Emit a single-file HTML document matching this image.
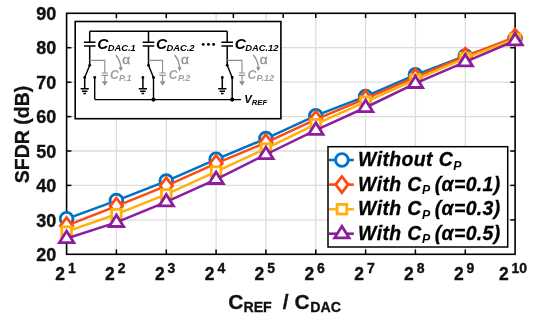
<!DOCTYPE html>
<html><head><meta charset="utf-8"><title>SFDR</title>
<style>html,body{margin:0;padding:0;background:#fff}svg{display:block}text{font-family:"Liberation Sans",sans-serif}</style></head>
<body>
<svg width="550" height="321" viewBox="0 0 550 321">
<rect width="550" height="321" fill="#fff"/>
<g stroke="#dcdcdc" stroke-width="1.3">
<line x1="116.4" y1="13.3" x2="116.4" y2="254.3"/>
<line x1="166.3" y1="13.3" x2="166.3" y2="254.3"/>
<line x1="216.1" y1="13.3" x2="216.1" y2="254.3"/>
<line x1="265.9" y1="13.3" x2="265.9" y2="254.3"/>
<line x1="315.8" y1="13.3" x2="315.8" y2="254.3"/>
<line x1="365.6" y1="13.3" x2="365.6" y2="254.3"/>
<line x1="415.4" y1="13.3" x2="415.4" y2="254.3"/>
<line x1="465.3" y1="13.3" x2="465.3" y2="254.3"/>
<line x1="66.6" y1="219.9" x2="515.1" y2="219.9"/>
<line x1="66.6" y1="185.4" x2="515.1" y2="185.4"/>
<line x1="66.6" y1="151.0" x2="515.1" y2="151.0"/>
<line x1="66.6" y1="116.6" x2="515.1" y2="116.6"/>
<line x1="66.6" y1="82.2" x2="515.1" y2="82.2"/>
<line x1="66.6" y1="47.7" x2="515.1" y2="47.7"/>
</g>
<g stroke="#000" stroke-width="1.5">
<line x1="116.4" y1="254.3" x2="116.4" y2="249.5"/>
<line x1="116.4" y1="13.3" x2="116.4" y2="18.1"/>
<line x1="166.3" y1="254.3" x2="166.3" y2="249.5"/>
<line x1="166.3" y1="13.3" x2="166.3" y2="18.1"/>
<line x1="216.1" y1="254.3" x2="216.1" y2="249.5"/>
<line x1="233.4" y1="13.3" x2="233.4" y2="18.1"/>
<line x1="265.9" y1="254.3" x2="265.9" y2="249.5"/>
<line x1="283.2" y1="13.3" x2="283.2" y2="18.1"/>
<line x1="315.8" y1="254.3" x2="315.8" y2="249.5"/>
<line x1="315.8" y1="13.3" x2="315.8" y2="18.1"/>
<line x1="365.6" y1="254.3" x2="365.6" y2="249.5"/>
<line x1="365.6" y1="13.3" x2="365.6" y2="18.1"/>
<line x1="415.4" y1="254.3" x2="415.4" y2="249.5"/>
<line x1="415.4" y1="13.3" x2="415.4" y2="18.1"/>
<line x1="465.3" y1="254.3" x2="465.3" y2="249.5"/>
<line x1="465.3" y1="13.3" x2="465.3" y2="18.1"/>
<line x1="66.6" y1="219.9" x2="71.39999999999999" y2="219.9"/>
<line x1="515.1" y1="219.9" x2="510.3" y2="219.9"/>
<line x1="66.6" y1="185.4" x2="71.39999999999999" y2="185.4"/>
<line x1="515.1" y1="185.4" x2="510.3" y2="185.4"/>
<line x1="66.6" y1="151.0" x2="71.39999999999999" y2="151.0"/>
<line x1="515.1" y1="151.0" x2="510.3" y2="151.0"/>
<line x1="66.6" y1="116.6" x2="71.39999999999999" y2="116.6"/>
<line x1="515.1" y1="116.6" x2="510.3" y2="116.6"/>
<line x1="66.6" y1="82.2" x2="71.39999999999999" y2="82.2"/>
<line x1="515.1" y1="82.2" x2="510.3" y2="82.2"/>
<line x1="66.6" y1="47.7" x2="71.39999999999999" y2="47.7"/>
<line x1="515.1" y1="47.7" x2="510.3" y2="47.7"/>
</g>
<rect x="66.6" y="13.3" width="448.5" height="241.0" fill="none" stroke="#000" stroke-width="1.6"/>
<g id="series">
<polyline points="66.6,218.8 116.4,200.6 166.3,181.1 216.1,159.3 265.9,138.6 315.8,115.7 365.6,96.4 415.4,74.8 465.3,56.0 515.1,38.4" fill="none" stroke="#0072C6" stroke-width="2.5" stroke-linejoin="round"/>
<circle cx="66.6" cy="218.8" r="6.35" fill="#fff" stroke="#0072C6" stroke-width="2.8"/>
<circle cx="116.4" cy="200.6" r="6.35" fill="#fff" stroke="#0072C6" stroke-width="2.8"/>
<circle cx="166.3" cy="181.1" r="6.35" fill="#fff" stroke="#0072C6" stroke-width="2.8"/>
<circle cx="216.1" cy="159.3" r="6.35" fill="#fff" stroke="#0072C6" stroke-width="2.8"/>
<circle cx="265.9" cy="138.6" r="6.35" fill="#fff" stroke="#0072C6" stroke-width="2.8"/>
<circle cx="315.8" cy="115.7" r="6.35" fill="#fff" stroke="#0072C6" stroke-width="2.8"/>
<circle cx="365.6" cy="96.4" r="6.35" fill="#fff" stroke="#0072C6" stroke-width="2.8"/>
<circle cx="415.4" cy="74.8" r="6.35" fill="#fff" stroke="#0072C6" stroke-width="2.8"/>
<circle cx="465.3" cy="56.0" r="6.35" fill="#fff" stroke="#0072C6" stroke-width="2.8"/>
<circle cx="515.1" cy="38.4" r="6.35" fill="#fff" stroke="#0072C6" stroke-width="2.8"/>
<polyline points="66.6,225.7 116.4,206.1 166.3,185.8 216.1,163.4 265.9,142.6 315.8,119.3 365.6,98.7 415.4,77.2 465.3,56.3 515.1,37.2" fill="none" stroke="#FF4A10" stroke-width="2.5" stroke-linejoin="round"/>
<path d="M66.6 217.6L72.8 225.7L66.6 233.8L60.4 225.7Z" fill="#fff" stroke="#FF4A10" stroke-width="2.8" stroke-linejoin="miter"/>
<path d="M116.4 198.0L122.6 206.1L116.4 214.2L110.2 206.1Z" fill="#fff" stroke="#FF4A10" stroke-width="2.8" stroke-linejoin="miter"/>
<path d="M166.3 177.7L172.5 185.8L166.3 193.9L160.1 185.8Z" fill="#fff" stroke="#FF4A10" stroke-width="2.8" stroke-linejoin="miter"/>
<path d="M216.1 155.3L222.3 163.4L216.1 171.5L209.9 163.4Z" fill="#fff" stroke="#FF4A10" stroke-width="2.8" stroke-linejoin="miter"/>
<path d="M265.9 134.5L272.1 142.6L265.9 150.7L259.7 142.6Z" fill="#fff" stroke="#FF4A10" stroke-width="2.8" stroke-linejoin="miter"/>
<path d="M315.8 111.2L322.0 119.3L315.8 127.4L309.6 119.3Z" fill="#fff" stroke="#FF4A10" stroke-width="2.8" stroke-linejoin="miter"/>
<path d="M365.6 90.6L371.8 98.7L365.6 106.8L359.4 98.7Z" fill="#fff" stroke="#FF4A10" stroke-width="2.8" stroke-linejoin="miter"/>
<path d="M415.4 69.1L421.6 77.2L415.4 85.3L409.2 77.2Z" fill="#fff" stroke="#FF4A10" stroke-width="2.8" stroke-linejoin="miter"/>
<path d="M465.3 48.2L471.5 56.3L465.3 64.4L459.1 56.3Z" fill="#fff" stroke="#FF4A10" stroke-width="2.8" stroke-linejoin="miter"/>
<path d="M515.1 29.1L521.3 37.2L515.1 45.3L508.9 37.2Z" fill="#fff" stroke="#FF4A10" stroke-width="2.8" stroke-linejoin="miter"/>
<polyline points="66.6,231.6 116.4,214.2 166.3,194.4 216.1,171.7 265.9,148.6 315.8,124.2 365.6,101.8 415.4,79.6 465.3,58.2 515.1,38.8" fill="none" stroke="#FFB00A" stroke-width="2.5" stroke-linejoin="round"/>
<rect x="61.8" y="226.8" width="9.6" height="9.6" fill="#fff" stroke="#FFB00A" stroke-width="2.8"/>
<rect x="111.6" y="209.4" width="9.6" height="9.6" fill="#fff" stroke="#FFB00A" stroke-width="2.8"/>
<rect x="161.5" y="189.6" width="9.6" height="9.6" fill="#fff" stroke="#FFB00A" stroke-width="2.8"/>
<rect x="211.3" y="166.9" width="9.6" height="9.6" fill="#fff" stroke="#FFB00A" stroke-width="2.8"/>
<rect x="261.1" y="143.8" width="9.6" height="9.6" fill="#fff" stroke="#FFB00A" stroke-width="2.8"/>
<rect x="311.0" y="119.4" width="9.6" height="9.6" fill="#fff" stroke="#FFB00A" stroke-width="2.8"/>
<rect x="360.8" y="97.0" width="9.6" height="9.6" fill="#fff" stroke="#FFB00A" stroke-width="2.8"/>
<rect x="410.6" y="74.8" width="9.6" height="9.6" fill="#fff" stroke="#FFB00A" stroke-width="2.8"/>
<rect x="460.5" y="53.4" width="9.6" height="9.6" fill="#fff" stroke="#FFB00A" stroke-width="2.8"/>
<rect x="510.3" y="34.0" width="9.6" height="9.6" fill="#fff" stroke="#FFB00A" stroke-width="2.8"/>
<polyline points="66.6,238.5 116.4,222.4 166.3,201.8 216.1,179.4 265.9,154.5 315.8,130.2 365.6,107.5 415.4,83.4 465.3,61.8 515.1,40.8" fill="none" stroke="#8C1E9E" stroke-width="2.5" stroke-linejoin="round"/>
<path d="M66.6 231.1L73.8 242.6L59.4 242.6Z" fill="#fff" stroke="#8C1E9E" stroke-width="2.8" stroke-linejoin="miter"/>
<path d="M116.4 215.0L123.6 226.5L109.2 226.5Z" fill="#fff" stroke="#8C1E9E" stroke-width="2.8" stroke-linejoin="miter"/>
<path d="M166.3 194.4L173.5 205.9L159.1 205.9Z" fill="#fff" stroke="#8C1E9E" stroke-width="2.8" stroke-linejoin="miter"/>
<path d="M216.1 172.0L223.3 183.5L208.9 183.5Z" fill="#fff" stroke="#8C1E9E" stroke-width="2.8" stroke-linejoin="miter"/>
<path d="M265.9 147.1L273.1 158.6L258.7 158.6Z" fill="#fff" stroke="#8C1E9E" stroke-width="2.8" stroke-linejoin="miter"/>
<path d="M315.8 122.8L323.0 134.3L308.6 134.3Z" fill="#fff" stroke="#8C1E9E" stroke-width="2.8" stroke-linejoin="miter"/>
<path d="M365.6 100.1L372.8 111.6L358.4 111.6Z" fill="#fff" stroke="#8C1E9E" stroke-width="2.8" stroke-linejoin="miter"/>
<path d="M415.4 76.0L422.6 87.5L408.2 87.5Z" fill="#fff" stroke="#8C1E9E" stroke-width="2.8" stroke-linejoin="miter"/>
<path d="M465.3 54.4L472.5 65.9L458.1 65.9Z" fill="#fff" stroke="#8C1E9E" stroke-width="2.8" stroke-linejoin="miter"/>
<path d="M515.1 33.4L522.3 44.9L507.9 44.9Z" fill="#fff" stroke="#8C1E9E" stroke-width="2.8" stroke-linejoin="miter"/>
</g>
<g font-weight="bold" font-size="18" text-anchor="end" fill="#111" stroke="#111" stroke-width="0.35">
<text x="56.3" y="260.9">20</text>
<text x="56.3" y="226.5">30</text>
<text x="56.3" y="192.0">40</text>
<text x="56.3" y="157.6">50</text>
<text x="56.3" y="123.2">60</text>
<text x="56.3" y="88.8">70</text>
<text x="56.3" y="54.3">80</text>
<text x="56.3" y="19.9">90</text>
</g>
<g font-weight="bold" fill="#111" stroke="#111" stroke-width="0.35">
<text x="55.3" y="280.3" font-size="17.5">2</text><text x="67.9" y="272.6" font-size="14">1</text>
<text x="105.1" y="280.3" font-size="17.5">2</text><text x="117.7" y="272.6" font-size="14">2</text>
<text x="155.0" y="280.3" font-size="17.5">2</text><text x="167.6" y="272.6" font-size="14">3</text>
<text x="204.8" y="280.3" font-size="17.5">2</text><text x="217.4" y="272.6" font-size="14">4</text>
<text x="254.6" y="280.3" font-size="17.5">2</text><text x="267.2" y="272.6" font-size="14">5</text>
<text x="304.5" y="280.3" font-size="17.5">2</text><text x="317.1" y="272.6" font-size="14">6</text>
<text x="354.3" y="280.3" font-size="17.5">2</text><text x="366.9" y="272.6" font-size="14">7</text>
<text x="404.1" y="280.3" font-size="17.5">2</text><text x="416.7" y="272.6" font-size="14">8</text>
<text x="454.0" y="280.3" font-size="17.5">2</text><text x="466.6" y="272.6" font-size="14">9</text>
<text x="498.9" y="280.3" font-size="17.5">2</text><text x="511.5" y="272.6" font-size="14">10</text>
</g>
<text transform="translate(28.6,134.5) rotate(-90)" text-anchor="middle" font-weight="bold" font-size="19.5" fill="#111" stroke="#111" stroke-width="0.3">SFDR (dB)</text>
<g font-weight="bold" fill="#111" stroke="#111" stroke-width="0.3"><text x="228.2" y="308.8" font-size="21">C</text><text x="243.4" y="311.9" font-size="14.2">REF</text><text x="282.8" y="308.8" font-size="21">/</text><text x="294.4" y="308.8" font-size="21">C</text><text x="310.2" y="311.9" font-size="14.2">DAC</text></g>
<rect x="328" y="146.7" width="179.7" height="100.3" fill="#fff" stroke="#000" stroke-width="1.5"/>
<line x1="329" y1="160.0" x2="353.8" y2="160.0" stroke="#0072C6" stroke-width="2.6"/>
<circle cx="341.9" cy="160.0" r="6.35" fill="#fff" stroke="#0072C6" stroke-width="2.8"/>
<text x="358.1" y="166.2" font-weight="bold" font-style="italic" font-size="19.4" letter-spacing="0.4" fill="#000" stroke="#000" stroke-width="0.3">Without C<tspan font-size="12.3" dy="3.6" dx="0.3" stroke-width="0">P</tspan><tspan dy="-3.6" dx="4"></tspan></text>
<line x1="329" y1="184.6" x2="353.8" y2="184.6" stroke="#FF4A10" stroke-width="2.6"/>
<path d="M341.9 176.5L348.1 184.6L341.9 192.7L335.7 184.6Z" fill="#fff" stroke="#FF4A10" stroke-width="2.8" stroke-linejoin="miter"/>
<text x="358.1" y="190.7" font-weight="bold" font-style="italic" font-size="19.4" letter-spacing="0.4" fill="#000" stroke="#000" stroke-width="0.3">With C<tspan font-size="12.3" dy="3.6" dx="0.3" stroke-width="0">P</tspan><tspan dy="-3.6" dx="4">(α=0.1)</tspan></text>
<line x1="329" y1="209.2" x2="353.8" y2="209.2" stroke="#FFB00A" stroke-width="2.6"/>
<rect x="337.1" y="204.4" width="9.6" height="9.6" fill="#fff" stroke="#FFB00A" stroke-width="2.8"/>
<text x="358.1" y="215.2" font-weight="bold" font-style="italic" font-size="19.4" letter-spacing="0.4" fill="#000" stroke="#000" stroke-width="0.3">With C<tspan font-size="12.3" dy="3.6" dx="0.3" stroke-width="0">P</tspan><tspan dy="-3.6" dx="4">(α=0.3)</tspan></text>
<line x1="329" y1="233.7" x2="353.8" y2="233.7" stroke="#8C1E9E" stroke-width="2.6"/>
<path d="M341.9 226.3L349.1 237.8L334.7 237.8Z" fill="#fff" stroke="#8C1E9E" stroke-width="2.8" stroke-linejoin="miter"/>
<text x="358.1" y="239.7" font-weight="bold" font-style="italic" font-size="19.4" letter-spacing="0.4" fill="#000" stroke="#000" stroke-width="0.3">With C<tspan font-size="12.3" dy="3.6" dx="0.3" stroke-width="0">P</tspan><tspan dy="-3.6" dx="4">(α=0.5)</tspan></text>
<rect x="75.2" y="21.5" width="205.7" height="97.2" fill="#fff" stroke="#000" stroke-width="1.6"/>
<g id="circuit">
<path d="M89.7 31.3H227.2" stroke="#000" stroke-width="1.4" fill="none"/>
<path d="M94.8 99.6H241" stroke="#000" stroke-width="1.3" fill="none"/>
<path d="M89.7 31.3V42.3M83.9 42.3H95.5M83.9 46H95.5M89.7 46V65.3" stroke="#000" stroke-width="1.5" fill="none"/>
<path d="M89.7 60.3H104.8V73M101.6 73H108.0M101.6 75.3H108.0M104.8 75.3V82" stroke="#909090" stroke-width="1.15" fill="none"/>
<path d="M101.8 81.3H107.8L104.8 85.8Z" fill="#909090"/>
<path d="M89.7 65.3L84.7 77.5" stroke="#000" stroke-width="1.4" fill="none"/>
<circle cx="89.7" cy="65.3" r="1.4"/><circle cx="84.7" cy="77.5" r="1.4"/><circle cx="94.7" cy="77.5" r="1.4"/>
<path d="M84.7 77.5V88.8M80.6 88.8H88.8M82.0 91.2H87.4M83.4 93.6H86.0" stroke="#000" stroke-width="1.5" fill="none"/>
<path d="M94.7 77.5V99.6" stroke="#000" stroke-width="1.4" fill="none"/>
<text x="97.2" y="48.7" font-weight="bold" font-style="italic" font-size="15.4" fill="#000">C</text><text x="107.7" y="51.1" font-weight="bold" font-style="italic" font-size="9.35" fill="#000">DAC.1</text>
<text x="110.0" y="78.7" font-weight="bold" font-style="italic" font-size="12.2" fill="#a0a0a0">C<tspan font-size="9" dy="2.5" dx="0.3">P.1</tspan></text>
<text x="122.3" y="63.9" font-size="13.7" fill="#909090" stroke="#909090" stroke-width="0.35">α</text>
<path d="M115.8 55Q121.1 61.5 120.8 69" stroke="#909090" stroke-width="1.3" fill="none"/>
<path d="M118.6 67.3L123.0 67.3L120.8 71.3Z" fill="#909090"/>
<path d="M148.5 31.3V42.3M142.7 42.3H154.3M142.7 46H154.3M148.5 46V65.3" stroke="#000" stroke-width="1.5" fill="none"/>
<path d="M148.5 60.3H162.6V73M159.4 73H165.8M159.4 75.3H165.8M162.6 75.3V82" stroke="#909090" stroke-width="1.15" fill="none"/>
<path d="M159.6 81.3H165.6L162.6 85.8Z" fill="#909090"/>
<path d="M148.5 65.3L153.5 77.5" stroke="#000" stroke-width="1.4" fill="none"/>
<circle cx="148.5" cy="65.3" r="1.4"/><circle cx="142.9" cy="77.5" r="1.4"/><circle cx="153.5" cy="77.5" r="1.4"/>
<path d="M142.9 77.5V88.8M138.8 88.8H147.0M140.2 91.2H145.6M141.6 93.6H144.2" stroke="#000" stroke-width="1.5" fill="none"/>
<path d="M153.5 77.5V99.6" stroke="#000" stroke-width="1.4" fill="none"/>
<circle cx="153.5" cy="99.6" r="2.15"/>
<text x="156.0" y="48.7" font-weight="bold" font-style="italic" font-size="15.4" fill="#000">C</text><text x="166.5" y="51.1" font-weight="bold" font-style="italic" font-size="9.35" fill="#000">DAC.2</text>
<text x="168.8" y="78.7" font-weight="bold" font-style="italic" font-size="12.2" fill="#a0a0a0">C<tspan font-size="9" dy="2.5" dx="0.3">P.2</tspan></text>
<text x="181.1" y="63.9" font-size="13.7" fill="#909090" stroke="#909090" stroke-width="0.35">α</text>
<path d="M174.6 55Q179.9 61.5 179.6 69" stroke="#909090" stroke-width="1.3" fill="none"/>
<path d="M177.4 67.3L181.8 67.3L179.6 71.3Z" fill="#909090"/>
<path d="M227.2 31.3V42.3M221.39999999999998 42.3H233.0M221.39999999999998 46H233.0M227.2 46V65.3" stroke="#000" stroke-width="1.5" fill="none"/>
<path d="M227.2 60.3H242.0V73M238.8 73H245.2M238.8 75.3H245.2M242.0 75.3V82" stroke="#909090" stroke-width="1.15" fill="none"/>
<path d="M239.0 81.3H245.0L242.0 85.8Z" fill="#909090"/>
<path d="M227.2 65.3L232.2 77.5" stroke="#000" stroke-width="1.4" fill="none"/>
<circle cx="227.2" cy="65.3" r="1.4"/><circle cx="222.3" cy="77.5" r="1.4"/><circle cx="232.2" cy="77.5" r="1.4"/>
<path d="M222.3 77.5V88.8M218.2 88.8H226.4M219.6 91.2H225.0M221.0 93.6H223.6" stroke="#000" stroke-width="1.5" fill="none"/>
<path d="M232.2 77.5V99.6" stroke="#000" stroke-width="1.4" fill="none"/>
<circle cx="232.2" cy="99.6" r="2.15"/>
<text x="234.7" y="48.7" font-weight="bold" font-style="italic" font-size="15.4" fill="#000">C</text><text x="245.2" y="51.1" font-weight="bold" font-style="italic" font-size="9.35" fill="#000">DAC.12</text>
<text x="247.5" y="78.7" font-weight="bold" font-style="italic" font-size="12.2" fill="#a0a0a0">C<tspan font-size="9" dy="2.5" dx="0.3">P.12</tspan></text>
<text x="259.8" y="63.9" font-size="13.7" fill="#909090" stroke="#909090" stroke-width="0.35">α</text>
<path d="M253.3 55Q258.6 61.5 258.3 69" stroke="#909090" stroke-width="1.3" fill="none"/>
<path d="M256.1 67.3L260.5 67.3L258.3 71.3Z" fill="#909090"/>
<circle cx="203.2" cy="44.4" r="1.45"/><circle cx="208.4" cy="44.4" r="1.45"/><circle cx="213.6" cy="44.4" r="1.45"/>
<text x="244.2" y="103" font-weight="bold" font-style="italic" font-size="11.3" fill="#000">V<tspan font-size="7.8" dy="2">REF</tspan></text>
</g>
</svg>
</body></html>
